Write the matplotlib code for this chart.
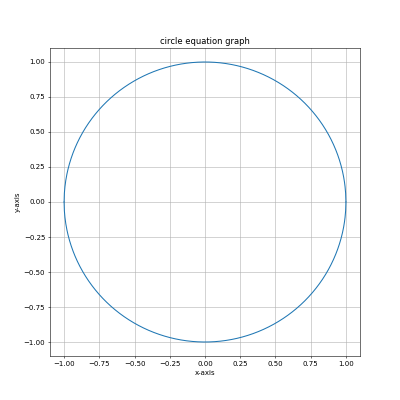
import numpy as np
import matplotlib
matplotlib.use("Agg")
import matplotlib.pyplot as plt

x = np.linspace(-1, 1, 1000)
y_upper = np.sqrt(1 - x**2)
y_lower = -np.sqrt(1 - x**2)

fig, ax = plt.subplots(figsize=(8, 8), dpi=50)
ax.plot(x, y_upper, color="#1f77b4")
ax.plot(x, y_lower, color="#1f77b4")
ax.set_title("circle equation graph")
ax.set_xlabel("x-axis")
ax.set_ylabel("y-axis")
ax.grid(True)
fig.savefig("out.png", dpi=50)
